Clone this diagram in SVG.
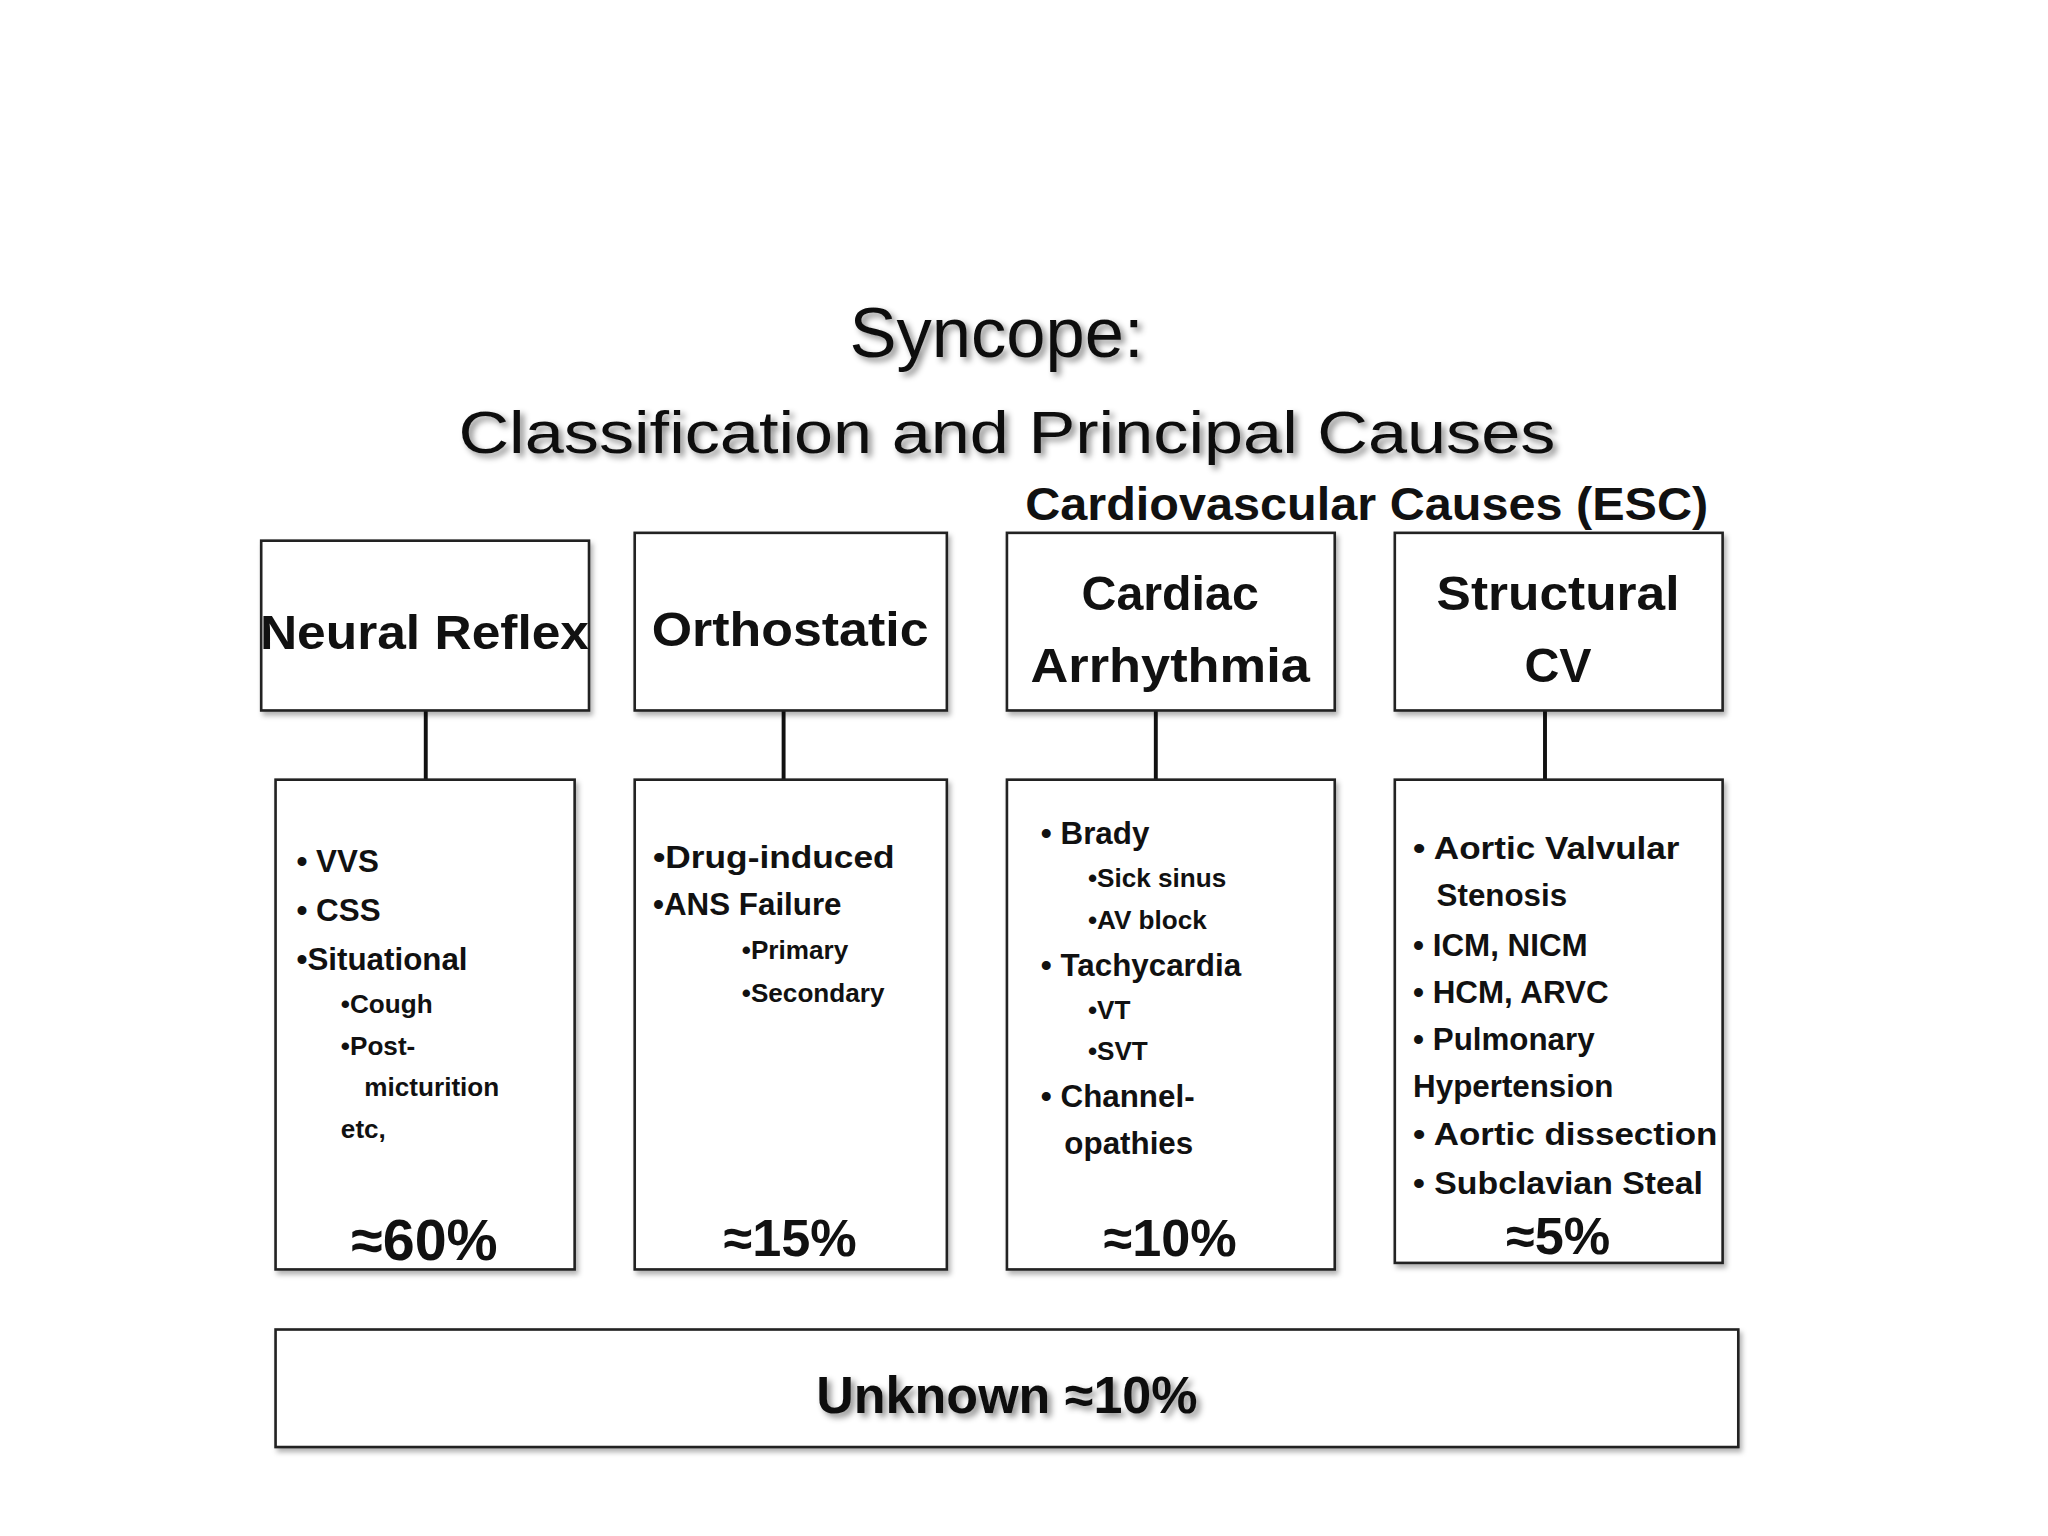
<svg xmlns="http://www.w3.org/2000/svg" width="2048" height="1536" viewBox="0 0 2048 1536">
<defs>
<filter id="sh" x="-10%" y="-20%" width="130%" height="150%"><feDropShadow dx="3" dy="3" stdDeviation="2.5" flood-color="#000" flood-opacity="0.45"/></filter>
<filter id="bs" x="-5%" y="-5%" width="110%" height="115%"><feDropShadow dx="2" dy="3" stdDeviation="2" flood-color="#000" flood-opacity="0.3"/></filter>
</defs>
<style>
text{font-family:"Liberation Sans","DejaVu Sans",sans-serif;font-weight:bold;fill:#111}
.box{fill:#fff;stroke:#222;stroke-width:2}
.h{font-size:37px;text-anchor:middle}
.b{font-size:24px}
.s{font-size:20px}
.p{font-size:40px;text-anchor:middle}
.c{stroke:#111;stroke-width:3}
</style>
<rect width="2048" height="1536" fill="#fff"/>
<g transform="scale(1.306)">
<g id="title" filter="url(#sh)">
<text x="763" y="273" style="font-size:54px;font-weight:normal;text-anchor:middle">Syncope:</text>
<text x="771" y="347" style="font-size:46px;font-weight:normal;text-anchor:middle" textLength="840" lengthAdjust="spacingAndGlyphs">Classification and Principal Causes</text>
</g>
<text x="785" y="398" style="font-size:36px" textLength="523" lengthAdjust="spacingAndGlyphs">Cardiovascular Causes (ESC)</text>
<g id="connectors">
<line class="c" x1="326" y1="544" x2="326" y2="597"/>
<line class="c" x1="600" y1="544" x2="600" y2="597"/>
<line class="c" x1="885" y1="544" x2="885" y2="597"/>
<line class="c" x1="1183" y1="544" x2="1183" y2="597"/>
</g>
<g id="neural-reflex"><rect class="box" x="200" y="414" width="251" height="130" filter="url(#bs)"/>
<text class="h" x="325" y="497" textLength="252" lengthAdjust="spacingAndGlyphs">Neural Reflex</text></g>
<g id="orthostatic"><rect class="box" x="486" y="408" width="239" height="136" filter="url(#bs)"/>
<text class="h" x="605" y="495" textLength="212" lengthAdjust="spacingAndGlyphs">Orthostatic</text></g>
<g id="cardiac-arrhythmia"><rect class="box" x="771" y="408" width="251" height="136" filter="url(#bs)"/>
<text class="h" x="896" y="467">Cardiac</text><text class="h" x="896" y="522" textLength="214" lengthAdjust="spacingAndGlyphs">Arrhythmia</text></g>
<g id="structural-cv"><rect class="box" x="1068" y="408" width="251" height="136" filter="url(#bs)"/>
<text class="h" x="1193" y="467" textLength="186" lengthAdjust="spacingAndGlyphs">Structural</text><text class="h" x="1193" y="522">CV</text></g>
<g id="neural-list"><rect class="box" x="211" y="597" width="229" height="375" filter="url(#bs)"/>
<text class="b" x="227" y="668">• VVS</text><text class="b" x="227" y="705">• CSS</text>
<text class="b" x="227" y="743">•Situational</text>
<text class="s" x="261" y="776">•Cough</text><text class="s" x="261" y="808">•Post-</text>
<text class="s" x="279" y="839">micturition</text><text class="s" x="261" y="871">etc,</text>
<text class="p" x="325" y="965" style="font-size:44px">≈60%</text></g>
<g id="orthostatic-list"><rect class="box" x="486" y="597" width="239" height="375" filter="url(#bs)"/>
<text class="b" x="500" y="665" textLength="185" lengthAdjust="spacingAndGlyphs">•Drug-induced</text>
<text class="b" x="500" y="701">•ANS Failure</text>
<text class="s" x="568" y="734">•Primary</text><text class="s" x="568" y="767">•Secondary</text>
<text class="p" x="605" y="962">≈15%</text></g>
<g id="cardiac-list"><rect class="box" x="771" y="597" width="251" height="375" filter="url(#bs)"/>
<text class="b" x="797" y="646">• Brady</text>
<text class="s" x="833" y="679">•Sick sinus</text><text class="s" x="833" y="711">•AV block</text>
<text class="b" x="797" y="747">• Tachycardia</text>
<text class="s" x="833" y="780">•VT</text><text class="s" x="833" y="812">•SVT</text>
<text class="b" x="797" y="848">• Channel-</text><text class="b" x="815" y="884">opathies</text>
<text class="p" x="896" y="962">≈10%</text></g>
<g id="structural-list"><rect class="box" x="1068" y="597" width="251" height="370" filter="url(#bs)"/>
<text class="b" x="1082" y="658" textLength="204" lengthAdjust="spacingAndGlyphs">• Aortic Valvular</text>
<text class="b" x="1100" y="694">Stenosis</text>
<text class="b" x="1082" y="732">• ICM, NICM</text>
<text class="b" x="1082" y="768">• HCM, ARVC</text>
<text class="b" x="1082" y="804">•  Pulmonary</text>
<text class="b" x="1082" y="840">Hypertension</text>
<text class="b" x="1082" y="877" textLength="233" lengthAdjust="spacingAndGlyphs">•  Aortic dissection</text>
<text class="b" x="1082" y="914" textLength="222" lengthAdjust="spacingAndGlyphs">• Subclavian Steal</text>
<text class="p" x="1193" y="960">≈5%</text></g>
<g id="unknown"><rect class="box" x="211" y="1018" width="1120" height="90" filter="url(#bs)"/>
<text class="p" x="771" y="1082" filter="url(#sh)" textLength="292" lengthAdjust="spacingAndGlyphs">Unknown ≈10%</text></g>
</g>
</svg>
